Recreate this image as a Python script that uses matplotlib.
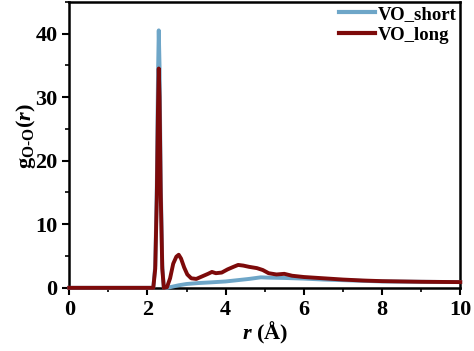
import numpy as np
import matplotlib
matplotlib.use("Agg")
import matplotlib.pyplot as plt
from matplotlib.ticker import MultipleLocator

plt.rcParams['font.family'] = ['Liberation Serif', 'DejaVu Serif']
plt.rcParams['font.weight'] = 'bold'
plt.rcParams['mathtext.fontset'] = 'custom'
plt.rcParams['mathtext.rm'] = 'Liberation Serif:bold'
plt.rcParams['mathtext.it'] = 'Liberation Serif:bold:italic'
plt.rcParams['mathtext.bf'] = 'Liberation Serif:bold'

# DATA

r_short = [0, 2.0, 2.15, 2.2, 2.24, 2.27, 2.29, 2.31, 2.34, 2.38, 2.42, 2.5, 2.58,
           2.8, 3.0, 3.3, 3.6, 4.0, 4.3, 4.6, 4.9, 5.1, 5.5, 6.0, 6.5, 7.0, 8.0, 9.0, 10.0]
g_short = [0, 0, 0, 3.5, 16, 33, 40.5, 35, 17, 3.5, 0, 0, 0.1,
           0.4, 0.6, 0.75, 0.85, 1.0, 1.2, 1.4, 1.65, 1.6, 1.55, 1.45, 1.3, 1.2, 1.0, 0.95, 0.9]

r_long = [0, 2.0, 2.15, 2.2, 2.24, 2.27, 2.29, 2.31, 2.34, 2.38, 2.42, 2.5, 2.58,
          2.66, 2.74, 2.80, 2.86, 2.94, 3.02, 3.12, 3.25, 3.4, 3.55, 3.65, 3.75,
          3.9, 4.05, 4.2, 4.32, 4.45, 4.6, 4.8, 4.95, 5.1, 5.3, 5.5, 5.7, 6.0,
          6.5, 7.0, 7.5, 8.0, 9.0, 10.0]
g_long = [0, 0, 0, 3, 14, 28, 34.5, 30, 15, 3, 0, 0.1, 1.5,
          3.8, 4.9, 5.2, 4.6, 3.2, 2.1, 1.5, 1.4, 1.8, 2.2, 2.5, 2.3,
          2.4, 2.9, 3.3, 3.6, 3.5, 3.3, 3.1, 2.8, 2.3, 2.1, 2.2, 1.9, 1.7,
          1.5, 1.3, 1.15, 1.05, 0.95, 0.9]

# PLOT

fig = plt.figure(figsize=(4.74, 3.51), dpi=100)
ax = fig.add_axes([0.146, 0.18, 0.825, 0.815])

ax.plot(r_short, g_short, color='#6ea6c8', lw=2.8, label='VO_short', zorder=3, clip_on=False)
ax.plot(r_long, g_long, color='#7d0a0a', lw=2.8, label='VO_long', zorder=4, clip_on=False)

ax.set_xlim(0, 10)
ax.set_ylim(0, 45)
ax.xaxis.set_major_locator(MultipleLocator(2))
ax.xaxis.set_minor_locator(MultipleLocator(1))
ax.yaxis.set_major_locator(MultipleLocator(10))
ax.yaxis.set_minor_locator(MultipleLocator(5))
ax.tick_params(which='major', direction='out', length=5, width=1.5, labelsize=16)
ax.tick_params(which='minor', direction='out', length=3, width=1.2)
for s in ax.spines.values():
    s.set_linewidth(1.8)

ax.set_xlabel(r'$\mathit{r}\ \mathbf{(Å)}$', fontsize=16, labelpad=0)
ax.set_ylabel(r'$\mathbf{g}_{\mathbf{O\text{-}O}}\mathbf{(}\mathit{r}\mathbf{)}$', fontsize=16)
ax.yaxis.set_label_coords(-0.08, 0.53)

leg = ax.legend(loc='upper right', frameon=False, fontsize=13.5, handlelength=1.9,
                handletextpad=0.15, borderaxespad=0.0, borderpad=0.2, labelspacing=0.2)
for line in leg.get_lines():
    line.set_linewidth(3)

fig.savefig('out.png', dpi=100)
